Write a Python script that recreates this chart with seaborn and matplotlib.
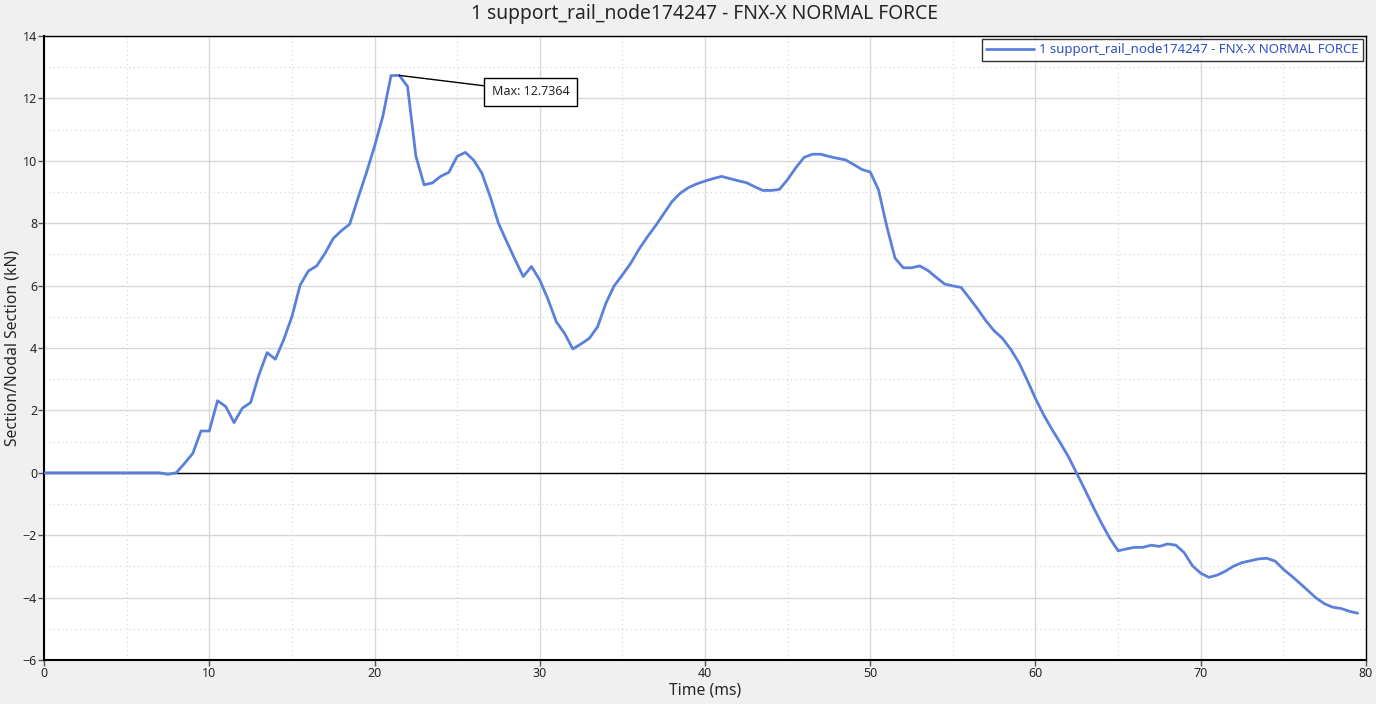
import numpy as np
import pandas as pd
import seaborn as sns
import matplotlib.pyplot as plt
from matplotlib.ticker import MultipleLocator

series_name = '1 support_rail_node174247 - FNX-X NORMAL FORCE'
force = [
    0.0, 0.0, 0.0, 0.0, 0.0, 0.0, 0.0, 0.0, 0.0, 0.0,
    0.0, 0.0, 0.0, 0.0, 0.0, -0.05, 0.0, 0.3, 0.62, 1.34,
    1.34, 2.31, 2.12, 1.61, 2.07, 2.25, 3.13, 3.85, 3.64, 4.26,
    5.0, 6.02, 6.47, 6.63, 7.03, 7.51, 7.76, 7.97, 8.8, 9.6,
    10.46, 11.42, 12.73, 12.7364, 12.38, 10.16, 9.23, 9.29, 9.5, 9.63,
    10.14, 10.27, 10.02, 9.6, 8.85, 8.0, 7.41, 6.84, 6.29, 6.61,
    6.18, 5.56, 4.84, 4.47, 3.97, 4.13, 4.31, 4.68, 5.43, 5.99,
    6.34, 6.71, 7.16, 7.55, 7.91, 8.3, 8.69, 8.96, 9.14, 9.26,
    9.35, 9.43, 9.5, 9.43, 9.36, 9.3, 9.17, 9.05, 9.05, 9.08,
    9.4, 9.78, 10.11, 10.21, 10.21, 10.14, 10.08, 10.03, 9.88, 9.72,
    9.64, 9.07, 7.9, 6.88, 6.57, 6.57, 6.63, 6.48, 6.26, 6.05,
    5.99, 5.94, 5.6, 5.25, 4.87, 4.55, 4.31, 3.96, 3.53, 2.97,
    2.38, 1.85, 1.39, 0.96, 0.51, -0.02, -0.55, -1.1, -1.62, -2.1,
    -2.5, -2.44, -2.39, -2.39, -2.32, -2.36, -2.28, -2.32, -2.56, -2.98,
    -3.22, -3.35, -3.28, -3.15, -2.99, -2.88, -2.82, -2.76, -2.74, -2.83,
    -3.09, -3.31, -3.54, -3.78, -4.02, -4.2, -4.31, -4.35, -4.44, -4.5,
]
time = np.arange(len(force)) * 0.5

df = pd.DataFrame({'Time': time, 'Force': force})

sns.set_style('white')
plt.rcParams['font.family'] = ['Noto Sans', 'DejaVu Sans']

fig = plt.figure(figsize=(13.76, 7.04), dpi=100, facecolor='#f0f0f0')
ax = fig.add_axes([0.032, 0.0625, 0.9607, 0.8864])
ax.set_facecolor('white')

line_color = '#5b80dc'
sns.lineplot(data=df, x='Time', y='Force', ax=ax, color=line_color,
             linewidth=2.0, label=series_name, zorder=3)

ax.set_xlim(0, 80)
ax.set_ylim(-6, 14)
ax.xaxis.set_major_locator(MultipleLocator(10))
ax.xaxis.set_minor_locator(MultipleLocator(5))
ax.yaxis.set_major_locator(MultipleLocator(2))
ax.yaxis.set_minor_locator(MultipleLocator(1))

ax.grid(which='major', color='#d8d8d8', linewidth=1.0, linestyle='-')
ax.grid(which='minor', color='#d0d0d0', linewidth=0.8, linestyle=(0, (1, 3)))
ax.set_axisbelow(True)
ax.axhline(0, color='black', linewidth=1.0, zorder=2)

for side in ['left', 'bottom', 'top', 'right']:
    ax.spines[side].set_color('black')
    ax.spines[side].set_linewidth(1.0)
ax.spines['left'].set_linewidth(1.5)
ax.spines['bottom'].set_linewidth(1.5)

ax.tick_params(axis='both', which='major', direction='out', length=4,
               width=1, color='#555555', labelsize=9, pad=1)
ax.tick_params(axis='both', which='minor', length=0)
ax.tick_params(axis='x', bottom=True)
ax.tick_params(axis='y', left=True)

ax.set_xlabel('Time (ms)', fontsize=11.3, labelpad=2)
ax.set_ylabel('Section/Nodal Section (kN)', fontsize=11.3, labelpad=2)
ax.set_title(series_name, fontsize=13.9, pad=12)

# max annotation
imax = int(np.argmax(force))
ax.annotate(f'Max: {force[imax]:.4f}', xy=(time[imax], force[imax]),
            xytext=(27.1, 12.22), ha='left', va='center', fontsize=9,
            bbox=dict(boxstyle='square,pad=0.6', fc='white', ec='black', lw=1),
            arrowprops=dict(arrowstyle='-', color='black', lw=1,
                            shrinkA=0, shrinkB=0), zorder=5)

leg = ax.legend(loc='upper right', fontsize=9.5, frameon=True, fancybox=False,
                edgecolor='black', borderaxespad=0.2, handlelength=3.6,
                handletextpad=0.4, borderpad=0.35)
leg.get_frame().set_linewidth(1.0)
for txt in leg.get_texts():
    txt.set_color('#2f4fc4')

fig.savefig('out.png', dpi=100, facecolor=fig.get_facecolor())
